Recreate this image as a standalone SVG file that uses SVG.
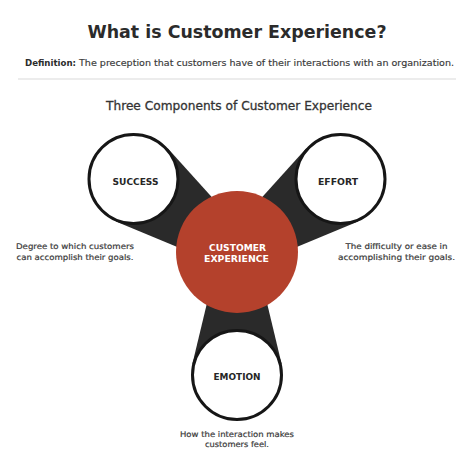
<svg xmlns="http://www.w3.org/2000/svg" width="474" height="474" viewBox="0 0 474 474">
<style>
  text { font-family: "DejaVu Sans", "Liberation Sans", Arial, sans-serif; }
  .title { font-size: 17.5px; font-weight: bold; fill: #2b2b2b; }
  .def { font-size: 8.3px; fill: #3a3a3a; stroke: #3a3a3a; stroke-width: 0.15px; }
  .defb { font-weight: bold; fill: #2b2b2b; stroke: none; }
  .sub { font-size: 12.5px; fill: #333333; stroke: #333333; stroke-width: 0.3px; }
  .lbl { font-size: 9.5px; font-weight: bold; fill: #262626; }
  .ctr { font-size: 9.5px; font-weight: bold; fill: #ffffff; }
  .desc { font-size: 7.9px; fill: #3a3a3a; stroke: #3a3a3a; stroke-width: 0.2px; }
  .ring { fill: #ffffff; stroke: #161616; stroke-width: 3; }
  .wedge { fill: #2a2a2a; }
</style>
<rect width="474" height="474" fill="#ffffff"/>

<g id="header">
  <text class="title" x="237" y="37.5" text-anchor="middle" textLength="299" lengthAdjust="spacingAndGlyphs">What is Customer Experience?</text>
  <text class="def" y="66"><tspan class="defb" x="25" textLength="51" lengthAdjust="spacingAndGlyphs">Definition:</tspan><tspan x="79" textLength="375" lengthAdjust="spacingAndGlyphs">The preception that customers have of their interactions with an organization.</tspan></text>
  <line x1="18" y1="79" x2="456" y2="79" stroke="#e6e6e6" stroke-width="1.5"/>
  <text class="sub" x="239" y="110" text-anchor="middle" textLength="266" lengthAdjust="spacingAndGlyphs">Three Components of Customer Experience</text>
</g>

<g id="connectors">
  <polygon class="wedge" points="167.7,148.2 224.8,211.4 194.7,254.2 115.9,221.5 133.5,179"/>
  <polygon class="wedge" points="306.3,148.2 249.2,211.4 279.3,254.2 358.1,221.5 340.5,179"/>
  <polygon class="wedge" points="281.7,364.3 262.8,285.4 211.2,285.4 192.3,364.3 237,375"/>
</g>

<g id="success">
  <circle class="ring" cx="133.5" cy="179" r="44.5"/>
  <text class="lbl" x="135.5" y="185" text-anchor="middle" textLength="46" lengthAdjust="spacingAndGlyphs">SUCCESS</text>
  <text class="desc" x="75" y="249" text-anchor="middle" textLength="118" lengthAdjust="spacingAndGlyphs">Degree to which customers</text>
  <text class="desc" x="75" y="260" text-anchor="middle" textLength="117" lengthAdjust="spacingAndGlyphs">can accomplish their goals.</text>
</g>

<g id="effort">
  <circle class="ring" cx="340.5" cy="179" r="44.5"/>
  <text class="lbl" x="338" y="185" text-anchor="middle" textLength="40" lengthAdjust="spacingAndGlyphs">EFFORT</text>
  <text class="desc" x="396.5" y="249" text-anchor="middle" textLength="102" lengthAdjust="spacingAndGlyphs">The difficulty or ease in</text>
  <text class="desc" x="396.5" y="260" text-anchor="middle" textLength="117" lengthAdjust="spacingAndGlyphs">accomplishing their goals.</text>
</g>

<g id="emotion">
  <circle class="ring" cx="237" cy="375" r="44.5"/>
  <text class="lbl" x="237" y="380" text-anchor="middle" textLength="47" lengthAdjust="spacingAndGlyphs">EMOTION</text>
  <text class="desc" x="237" y="437" text-anchor="middle" textLength="114" lengthAdjust="spacingAndGlyphs">How the interaction makes</text>
  <text class="desc" x="237" y="447" text-anchor="middle" textLength="64" lengthAdjust="spacingAndGlyphs">customers feel.</text>
</g>

<g id="customer-experience">
  <circle cx="237" cy="252" r="61" fill="#b4412c"/>
  <text class="ctr" x="237.5" y="250.5" text-anchor="middle" textLength="57" lengthAdjust="spacingAndGlyphs">CUSTOMER</text>
  <text class="ctr" x="236.5" y="262" text-anchor="middle" textLength="65" lengthAdjust="spacingAndGlyphs">EXPERIENCE</text>
</g>
</svg>
